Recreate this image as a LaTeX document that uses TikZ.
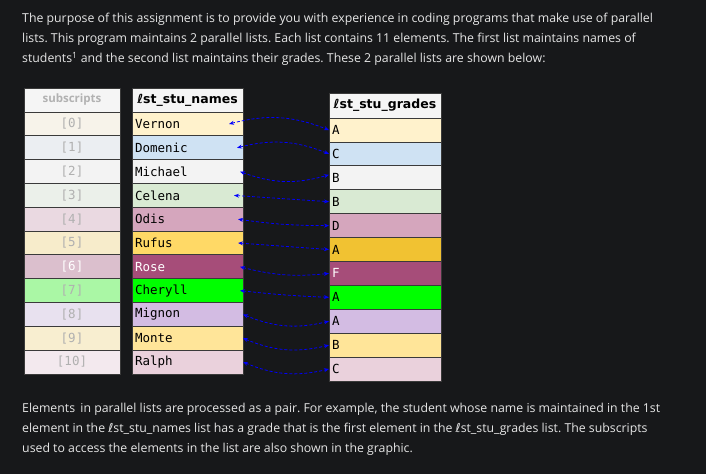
\documentclass[tikz,border=0pt]{standalone}
\usepackage{fontspec}
\setmainfont{Open Sans}
\newfontfamily\monof{DejaVu Sans Mono}
\newfontfamily\dvs{DejaVu Sans}
\usetikzlibrary{arrows.meta,calc}
\definecolor{bg}{HTML}{17181A}
\definecolor{txt}{HTML}{E6E6E6}
\definecolor{ln}{HTML}{3A3A3A}
\tikzset{x=1pt,y=-1pt,
 cell/.style={draw=ln,line width=0.8pt,minimum width=#1,minimum height=24,inner sep=2pt,anchor=north west,outer sep=0pt},
 sub/.style={cell=96,font=\monof\fontsize{12.5}{12}\selectfont},
 nm/.style={cell=111,align=left,text width=105,font=\monof\fontsize{12.5}{12}\selectfont},
 gr/.style={cell=112,text width=106,font=\monof\fontsize{12.5}{12}\selectfont},
 hd/.style={font=\dvs\bfseries\fontsize{12.5}{12}\selectfont},
 para/.style={text=txt,anchor=north west,align=left,font=\frenchspacing\fontsize{12.3}{20}\selectfont,inner sep=0pt},
 lnk/.style={blue,line width=0.8pt,dash pattern=on 3pt off 2pt,{Stealth[length=5pt,width=4pt]}-{Stealth[length=5pt,width=4pt]}}}
\begin{document}
\begin{tikzpicture}
\fill[bg] (0,0) rectangle (706,474);
\useasboundingbox (0,0) rectangle (706,474);
\node[para] (t1) at (22,13) {The purpose of this assignment is to provide you with experience in coding programs that make use of parallel\\ lists. This program maintains 2 parallel lists. Each list contains 11 elements. The first list maintains names of\\ students\textsuperscript{1} and the second list maintains their grades. These 2 parallel lists are shown below:};
\node[para] (t2) at (22,403) {Elements\, in parallel lists are processed as a pair. For example, the student whose name is maintained in the 1st\\ element in the {\dvs ℓ}st\_stu\_names list has a grade that is the first element in the {\dvs ℓ}st\_stu\_grades list. The subscripts\\ used to access the elements in the list are also shown in the graphic.};
% headers
\node[cell=96,fill=gray!8,text=gray!60,font=\bfseries\fontsize{11.5}{11}\selectfont] (sh) at (24,88) {subscripts};
\node[cell=111,fill=gray!8,hd] (nh) at (132,88) {ℓst\_stu\_names};
\node[cell=112,fill=gray!8,hd,minimum height=25] (gh) at (329,93) {ℓst\_stu\_grades};
\foreach \i/\n/\nc/\sc/\g/\gc/\tc/\stc in {
0/Vernon/FFF2CC/F7F3EA/A/FFF2CC/000000/B0B0B0,
1/Domenic/CFE2F3/EBEEF2/C/CFE2F3/000000/B0B0B0,
2/Michael/F3F3F3/F3F3F3/B/F3F3F3/000000/B0B0B0,
3/Celena/D9EAD3/EBF0EA/B/D9EAD3/000000/B0B0B0,
4/Odis/D5A6BD/EAD9E1/D/D5A6BD/000000/B0B0B0,
5/Rufus/FFD966/F7ECCB/A/F1C232/000000/B0B0B0,
6/Rose/A64D79/DBBFCD/F/A64D79/FFFFFF/FFFFFF,
7/Cheryll/00FF00/AAF7A5/A/00FF00/000000/B0B0B0,
8/Mignon/D3BCE3/E8E1EF/A/D3BCE3/000000/B0B0B0,
9/Monte/FFE599/F8EED0/B/FFE599/000000/B0B0B0,
10/Ralph/EAD1DC/F3E9EE/C/EAD1DC/000000/B0B0B0}{
 \definecolor{cn}{HTML}{\nc}\definecolor{cs}{HTML}{\sc}\definecolor{cg}{HTML}{\gc}
 \definecolor{ct}{HTML}{\tc}\definecolor{cst}{HTML}{\stc}
 \node[sub,fill=cs,text=cst] (s\i) at (24,112+23.8*\i) {[\i]};
 \node[nm,fill=cn,text=ct] (n\i) at (132,112+23.8*\i) {\n};
 \node[gr,fill=cg,text=ct] (g\i) at (329,118+23.9*\i) {\g};
}
\foreach \i/\a/\b/\c in {0/-14/0/-18,1/-6/0/-18,2/-3/-3/18,3/-9/0/0,4/-5/0/4,5/-5/0/0,6/-3/0/10,7/-3/0/2,8/0/0/18,9/0/0/18,10/0/0/18}{
 \coordinate (a\i) at ($(n\i.east)+(\a,0)$);
 \coordinate (b\i) at ($(g\i.west)+(0,\b)$);
 \draw[lnk] (a\i) to[bend right=\c] (b\i);
}
\end{tikzpicture}
\end{document}
